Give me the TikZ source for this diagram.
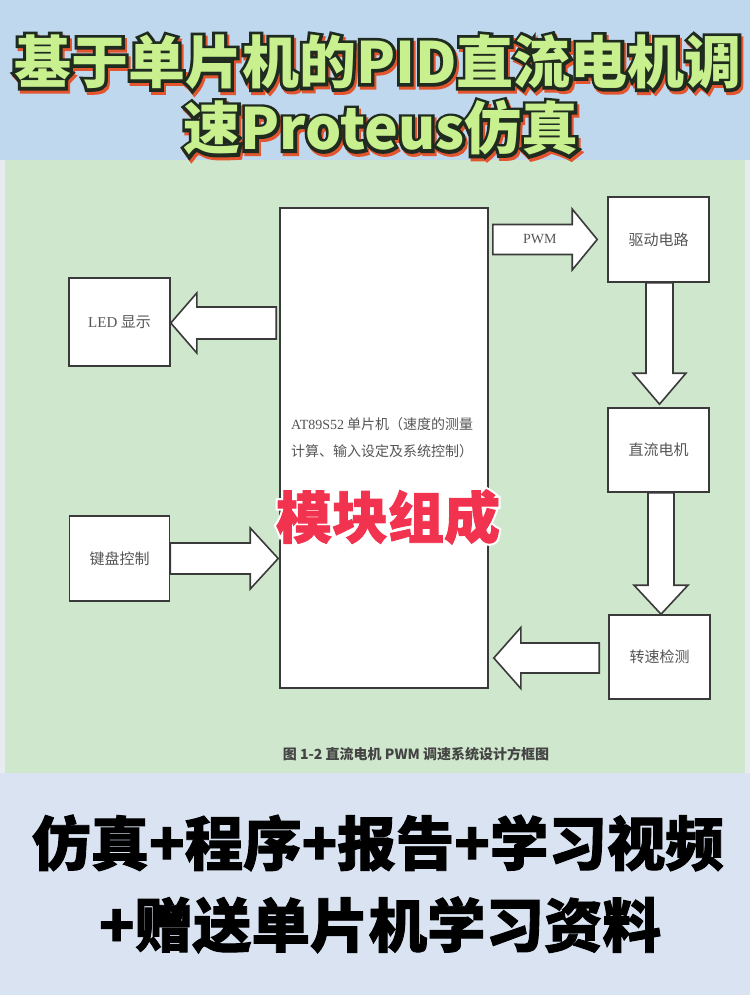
\documentclass[tikz,border=0pt]{standalone}
\usepackage{fontspec}
\setmainfont{Liberation Serif}
\newfontfamily\cjk{Noto Sans CJK SC}
\newfontfamily\cjkout{Noto Sans CJK SC}[FakeBold=11]
\newfontfamily\cjkwht{Noto Sans CJK SC}[FakeBold=9]
\newfontfamily\cjkhv{Noto Sans CJK SC}[FakeBold=1.5]
\usetikzlibrary{calc}
\definecolor{topbg}{HTML}{BFD8EE}
\definecolor{greenbg}{HTML}{CFE7CC}
\definecolor{edgebg}{HTML}{E6ECEF}
\definecolor{botbg}{HTML}{D9E3F1}
\definecolor{tfill}{HTML}{C8F08F}
\definecolor{tline}{HTML}{1F2B1E}
\definecolor{tshadow}{HTML}{E2552E}
\definecolor{mred}{HTML}{F2334F}
\definecolor{linec}{HTML}{3A3A3A}
\definecolor{txtgray}{HTML}{555555}
\definecolor{capgray}{HTML}{444444}
\begin{document}
\begin{tikzpicture}[x=1pt,y=-1pt,
  box/.style={draw=linec, line width=1.6pt, fill=white, inner sep=0pt, text=txtgray, font=\cjk\fontsize{15}{18}\selectfont},
  barrow/.style={draw=linec, line width=1.6pt, fill=white, line join=miter},
  tsh/.style={inner sep=0pt, text=tshadow, font=\cjkout\bfseries\fontsize{57}{57}\selectfont},
  tol/.style={inner sep=0pt, text=tline, font=\cjkout\bfseries\fontsize{57}{57}\selectfont},
  tfl/.style={inner sep=0pt, text=tfill, font=\cjk\bfseries\fontsize{57}{57}\selectfont},
  btxt/.style={inner sep=0pt, text=black, font=\cjkhv\bfseries\fontsize{58.5}{58.5}\selectfont}]
\useasboundingbox (0,0) rectangle (750,1000);
\fill[white] (0,0) rectangle (750,1000);
\fill[topbg] (0,0) rectangle (750,160);
\fill[edgebg] (0,160) rectangle (750,773);
\fill[greenbg] (5,160) rectangle (745,773);
\fill[botbg] (0,773) rectangle (750,995);

% title
\node[tsh] (t1s) at (380,65) {基于单片机的PID直流电机调};
\node[tol] (t1o) at (378,62) {基于单片机的PID直流电机调};
\node[tfl] (t1) at (378,62) {基于单片机的PID直流电机调};
\node[tsh] (t2s) at (383,131) {速Proteus仿真};
\node[tol] (t2o) at (381,128) {速Proteus仿真};
\node[tfl] (t2) at (381,128) {速Proteus仿真};

% boxes
\node[box, minimum width=208pt, minimum height=480pt] (mcu) at (384,448) {};
\node[box, minimum width=101pt, minimum height=85pt] (drv) at (658.5,239.5) {驱动电路};
\node[box, minimum width=101pt, minimum height=84pt] (mot) at (658.5,450) {直流电机};
\node[box, minimum width=101pt, minimum height=84pt] (spd) at (659.5,657) {转速检测};
\node[box, minimum width=101pt, minimum height=88pt] (led) at (119.5,322) {{\rmfamily LED} 显示};
\node[box, minimum width=100pt, minimum height=85pt] (kbd) at (119.5,558.5) {键盘控制};
\node[anchor=west, align=left, inner sep=0pt, text=txtgray, font=\cjk\fontsize{14}{27}\selectfont] (mcutxt) at (291,438) {{\rmfamily AT89S52} 单片机（速度的测量\\计算、输入设定及系统控制）};

% arrow end points
\coordinate (pwmS) at ($(mcu.east |- drv.west)+(4,0)$);
\coordinate (pwmT) at ($(drv.west)+(-10,0)$);
\coordinate (d1S) at ($(drv.south)+(1,0)$);
\coordinate (d1T) at ($(mot.north)+(1,-3)$);
\coordinate (d2S) at ($(mot.south)+(2.5,0)$);
\coordinate (d2T) at ($(spd.north)+(1.5,0)$);
\coordinate (fbS) at ($(spd.west)+(-9,1)$);
\coordinate (fbT) at ($(mcu.east |- fbS)+(5,0)$);
\coordinate (ledS) at ($(mcu.west |- led.east)+(-3,1)$);
\coordinate (ledT) at ($(led.east)+(0,1)$);
\coordinate (kbS) at (kbd.east);
\coordinate (kbT) at ($(mcu.west |- kbd.east)+(-1,0)$);

% block arrows
\draw[barrow] let \p1=(pwmS), \p2=(pwmT) in
  (\x1,\y1+15pt) -- (\x2-25pt,\y1+15pt) -- (\x2-25pt,\y1+30.5pt) -- (\x2,\y1)
  -- (\x2-25pt,\y1-30.5pt) -- (\x2-25pt,\y1-15pt) -- (\x1,\y1-15pt) -- cycle;
\node[inner sep=0pt, text=txtgray, font=\rmfamily\fontsize{14}{14}\selectfont] (pwmlbl) at ($(pwmS)!0.45!(pwmT)$) {PWM};

\draw[barrow] let \p1=(d1S), \p2=(d1T) in
  (\x1-13.5pt,\y1) -- (\x1-13.5pt,\y2+31pt) -- (\x1-26.5pt,\y2+31pt) -- (\x2,\y2)
  -- (\x1+26.5pt,\y2+31pt) -- (\x1+13.5pt,\y2+31pt) -- (\x1+13.5pt,\y1) -- cycle;

\draw[barrow] let \p1=(d2S), \p2=(d2T) in
  (\x1-13pt,\y1) -- (\x1-13pt,\y2+29pt) -- (\x1-27pt,\y2+29pt) -- (\x2,\y2)
  -- (\x1+27pt,\y2+29pt) -- (\x1+13pt,\y2+29pt) -- (\x1+13pt,\y1) -- cycle;

\draw[barrow] let \p1=(fbS), \p2=(fbT) in
  (\x1,\y1+15pt) -- (\x2+27pt,\y1+15pt) -- (\x2+27pt,\y1+30.5pt) -- (\x2,\y1)
  -- (\x2+27pt,\y1-30.5pt) -- (\x2+27pt,\y1-15pt) -- (\x1,\y1-15pt) -- cycle;

\draw[barrow] let \p1=(ledS), \p2=(ledT) in
  (\x1,\y1+16pt) -- (\x2+26pt,\y1+16pt) -- (\x2+26pt,\y1+30pt) -- (\x2,\y1)
  -- (\x2+26pt,\y1-30pt) -- (\x2+26pt,\y1-16pt) -- (\x1,\y1-16pt) -- cycle;

\draw[barrow] let \p1=(kbS), \p2=(kbT) in
  (\x1,\y1+15.5pt) -- (\x2-28pt,\y1+15.5pt) -- (\x2-28pt,\y1+30.5pt) -- (\x2,\y1)
  -- (\x2-28pt,\y1-30.5pt) -- (\x2-28pt,\y1-15.5pt) -- (\x1,\y1-15.5pt) -- cycle;

% overlay label
\node[inner sep=0pt, text=white, font=\cjkwht\bfseries\fontsize{56}{56}\selectfont] (mkw) at (388,517) {模块组成};
\node[inner sep=0pt, text=mred, font=\cjkhv\bfseries\fontsize{56}{56}\selectfont] (mk) at (388,517) {模块组成};

% caption
\node[inner sep=0pt, text=capgray, font=\cjk\bfseries\fontsize{14}{14}\selectfont] (cap) at (416,754) {图 1-2 直流电机 PWM 调速系统设计方框图};

% bottom text
\node[btxt] (b1) at (378,843) {仿真+程序+报告+学习视频};
\node[btxt] (b2) at (380,925) {+赠送单片机学习资料};
\end{tikzpicture}
\end{document}
